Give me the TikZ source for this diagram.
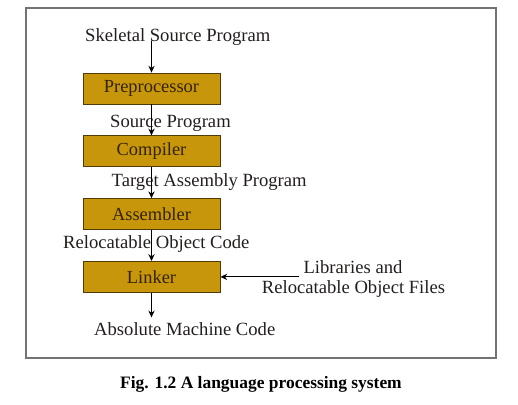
\documentclass[tikz,border=0pt]{standalone}
\usepackage{fontspec}
\setmainfont{Liberation Serif}
\usetikzlibrary{arrows.meta, positioning}
\definecolor{boxgold}{RGB}{200,150,10}
\definecolor{boxline}{RGB}{80,60,10}
\definecolor{boxtext}{RGB}{50,35,0}
\definecolor{lbltext}{RGB}{35,30,30}
\begin{document}
\begin{tikzpicture}[
  stagebox/.style={draw=boxline,fill=boxgold,line width=0.8pt,minimum width=137bp,minimum height=31bp,inner sep=0pt,text=boxtext,font=\fontsize{18.5}{20}\selectfont},
  lbl/.style={inner sep=0pt,text=lbltext,font=\fontsize{18.7}{20}\selectfont,anchor=base west},
  arr/.style={black,line width=1.2pt,-{Stealth[length=2.4mm,width=2.2mm]}}
]
\useasboundingbox (0,0) rectangle (518bp,-405bp);
% Outer frame
\draw[gray!90!black,line width=1.3pt] (26bp,-8bp) rectangle (496bp,-358bp);

% Stages
\node[stagebox] (pre) at (151.5bp,-88.5bp) {Preprocessor};
\node[stagebox,below=31bp of pre] (cmp) {Compiler};
\node[stagebox,below=31bp of cmp] (asm) {Assembler};
\node[stagebox,below=31bp of asm] (lnk) {Linker};

% Labels
\node[lbl] (src) at (85bp,-41bp) {Skeletal Source Program};
\node[lbl] (srcprog) at (110bp,-127bp) {Source Program};
\node[lbl] (tap) at (111.5bp,-186bp) {Target Assembly Program};
\node[lbl] (roc) at (63bp,-248bp) {Relocatable Object Code};
\node[lbl,anchor=base] (libs) at (353bp,-273bp) {Libraries and};
\node[lbl,anchor=base] (rof) at (353.5bp,-293bp) {Relocatable Object Files};
\node[lbl] (amc) at (94bp,-335bp) {Absolute Machine Code};

% Caption
\node[font=\fontsize{17.5}{20}\selectfont\bfseries,inner sep=0pt,anchor=base] (caption) at (261bp,-388bp) {Fig. 1.2 A language processing system};

% Arrows
\draw[arr] (pre.north |- src.base) -- (pre.north);
\draw[arr] (pre.south) -- (cmp.north);
\draw[arr] (cmp.south) -- (asm.north);
\draw[arr] (asm.south) -- (lnk.north);
\draw[arr] (lnk.south) -- ([yshift=4.5bp]lnk.south |- amc.north);
\draw[arr] ([xshift=-4bp]libs.west |- lnk.east) -- (lnk.east);
\end{tikzpicture}
\end{document}
